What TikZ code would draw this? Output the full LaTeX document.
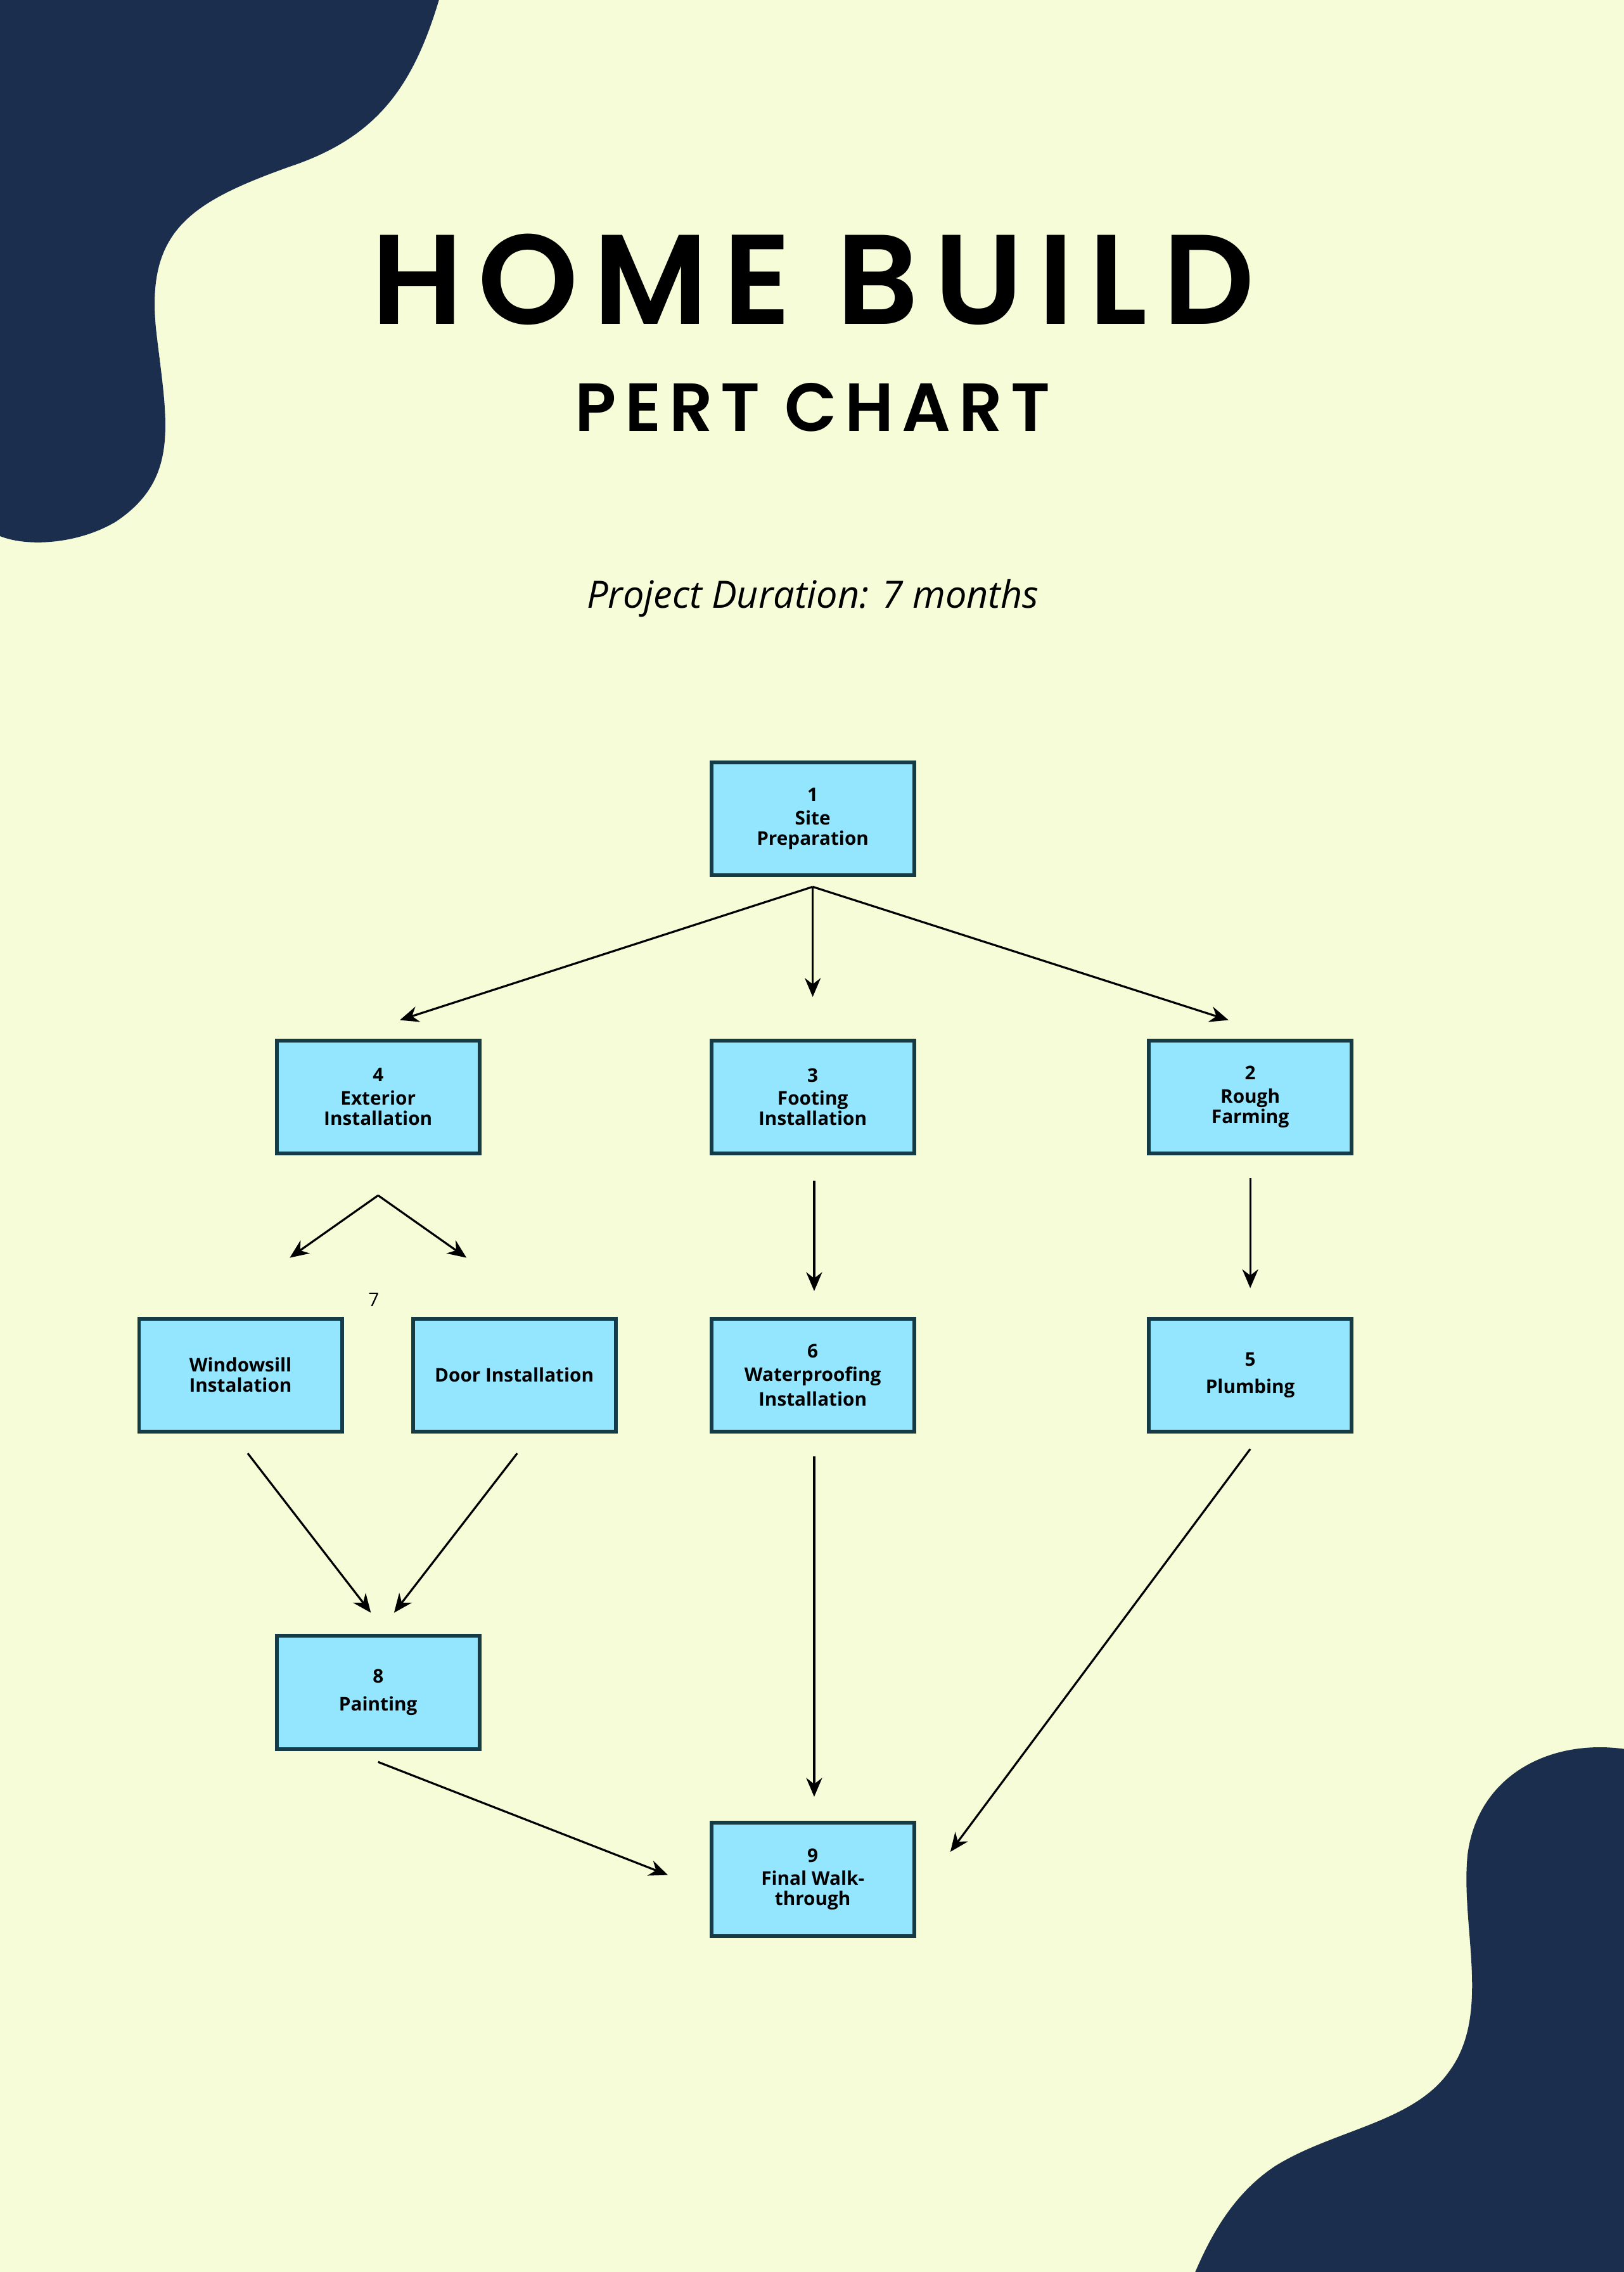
\documentclass[tikz,border=0pt]{standalone}
\usepackage{fontspec}
\setmainfont{Open Sans}
\newfontfamily\titlefont[LetterSpace=12]{Poppins SemiBold}
\usetikzlibrary{arrows.meta}
\definecolor{bg}{HTML}{F6FCD7}
\definecolor{navy}{HTML}{1C2E4D}
\definecolor{boxfill}{HTML}{93E6FE}
\definecolor{boxline}{HTML}{173B44}
\tikzset{
 pbox/.style={draw=boxline,fill=boxfill,line width=2.6pt,minimum width=140pt,minimum height=78pt,align=center,font=\fontsize{13}{14}\selectfont\bfseries,inner sep=2pt},
 arr/.style={-{Stealth[length=13pt,width=11pt]},line width=1.4pt}
}
\begin{document}
\begin{tikzpicture}[x=1pt,y=-1pt]
\fill[bg] (0,0) rectangle (1121,1568);
\useasboundingbox (0,0) rectangle (1121,1568);
\fill[navy] (0,0) -- (303,0) .. controls (285,60) and (260,95) .. (200,115)
 .. controls (130,140) and (100,160) .. (108,230)
 .. controls (115,290) and (125,330) .. (80,360)
 .. controls (55,375) and (20,378) .. (0,370) -- cycle;
\fill[navy] (1121,1207) .. controls (1070,1200) and (1020,1225) .. (1013,1280)
 .. controls (1008,1330) and (1030,1390) .. (1000,1430)
 .. controls (975,1465) and (920,1470) .. (880,1495)
 .. controls (850,1515) and (835,1545) .. (825,1568) -- (1121,1568) -- cycle;
\node (title) at (561,193) {\titlefont\fontsize{88}{90}\selectfont HOME BUILD};
\node (sub) at (561,281) {\titlefont\fontsize{47}{50}\selectfont PERT CHART};
\node (dur) at (561,413) {\itshape\fontsize{26}{28}\selectfont Project Duration: 7 months};
\node[pbox] (b1) at (561,565) {1\\[2pt]Site\\Preparation};
\node[pbox] (b4) at (261,757) {4\\[2pt]Exterior\\Installation};
\node[pbox] (b3) at (561,757) {3\\[2pt]Footing\\Installation};
\node[pbox] (b2) at (863,757) {2\\[2pt]Rough\\Farming};
\node[pbox] (bw) at (166,949) {Windowsill\\Instalation};
\node[pbox] (bd) at (355,949) {Door Installation};
\node[pbox] (b6) at (561,949) {6\\[2pt]Waterproofing\\[3pt]Installation};
\node[pbox] (b5) at (863,949) {5\\[5pt]Plumbing};
\node[pbox] (b8) at (261,1168) {8\\[5pt]Painting};
\node[pbox] (b9) at (561,1297) {9\\[2pt]Final Walk-\\through};
\node (seven) at (258,897) {\fontsize{13}{14}\selectfont 7};
\coordinate (s1) at (561,612); \coordinate (e4) at (276,704);
\coordinate (e3) at (561,688); \coordinate (e2) at (848,704);
\coordinate (s4) at (261,825); \coordinate (ew) at (200,868); \coordinate (ed) at (322,868);
\coordinate (s3) at (562,815); \coordinate (e6) at (562,891);
\coordinate (s2) at (863,813); \coordinate (e5) at (863,889);
\coordinate (sw) at (171,1003); \coordinate (ew8) at (256,1113);
\coordinate (sd) at (357,1003); \coordinate (ed8) at (272,1113);
\coordinate (s6) at (562,1005); \coordinate (e69) at (562,1240);
\coordinate (s5) at (863,1000); \coordinate (e59) at (656,1278);
\coordinate (s8) at (261,1216); \coordinate (e89) at (461,1294);
\draw[arr] (s1) -- (e4);
\draw[arr] (s1) -- (e3);
\draw[arr] (s1) -- (e2);
\draw[arr] (s4) -- (ew);
\draw[arr] (s4) -- (ed);
\draw[arr] (s3) -- (e6);
\draw[arr] (s2) -- (e5);
\draw[arr] (sw) -- (ew8);
\draw[arr] (sd) -- (ed8);
\draw[arr] (s6) -- (e69);
\draw[arr] (s5) -- (e59);
\draw[arr] (s8) -- (e89);
\end{tikzpicture}
\end{document}
